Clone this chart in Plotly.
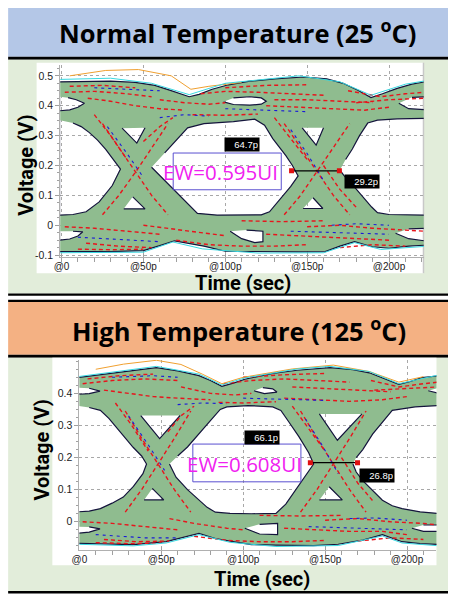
import plotly.graph_objects as go

# ---------------- Normal Temperature (25 oC) : time in ps, voltage in V ----------------
# outer envelope of the eye: top edge left->right, then bottom edge right->left
n_env_t = [-1.5, 15, 30, 45, 57, 66, 72, 78, 84, 92, 102, 115, 130, 148, 162, 172, 181, 189, 196, 205, 214, 224,
           224, 212, 200, 190, 186, 179, 170, 161, 145, 120, 100, 87, 78, 69, 60, 50, 30, -1.5]
n_env_v = [0.48, 0.481, 0.482, 0.478, 0.468, 0.452, 0.44, 0.43, 0.438, 0.455, 0.47, 0.482, 0.49, 0.496, 0.49,
           0.475, 0.452, 0.427, 0.44, 0.458, 0.472, 0.482,
           -0.066, -0.07, -0.077, -0.072, -0.066, -0.055, -0.07, -0.088, -0.089, -0.089, -0.087, -0.07, -0.06,
           -0.052, -0.068, -0.085, -0.088, -0.088]
# eye openings (drawn the other way round so they stay empty)
n_left_eye_t = [-1.2, -1.2, 7, 15, 23, 31, 36, 31, 27, 22, 17, 12, 7]
n_left_eye_v = [0.352, 0.034, 0.036, 0.045, 0.078, 0.133, 0.188, 0.225, 0.254, 0.285, 0.31, 0.33, 0.342]
n_mid_eye_t = [55, 62, 69, 76, 83, 95, 110, 122, 127, 131, 135.5, 140, 144.5, 141, 137, 133, 129, 124, 118, 105,
               95, 87, 77, 70, 63]
n_mid_eye_v = [0.194, 0.156, 0.118, 0.08, 0.04, 0.034, 0.034, 0.035, 0.045, 0.07, 0.1, 0.13, 0.165, 0.2, 0.233,
               0.262, 0.29, 0.335, 0.355, 0.347, 0.343, 0.34, 0.326, 0.284, 0.242]
n_right_eye_t = [170, 172.4, 177, 181.4, 185.5, 189.4, 193, 200, 223, 223, 205, 193, 187, 182, 177.6, 173.5]
n_right_eye_v = [0.185, 0.167, 0.14, 0.111, 0.085, 0.061, 0.042, 0.036, 0.034, 0.358, 0.356, 0.352, 0.342, 0.3,
                 0.255, 0.22]
n_isi_t = [37, 46, 51, None, 38, 51, 43.5, None, 147, 155.5, 160, None, 147.5, 159.6, 153.6]
n_isi_v = [0.325, 0.275, 0.326, None, 0.055, 0.055, 0.095, None, 0.326, 0.268, 0.326, None, 0.056, 0.056, 0.092]
n_lens_t = [-1.2, -1.2, 5, 10, 14, 9, 4, None, 99, 105, 115, 122, 125, 122, 115, 105, None,
            206, 212, 223, 223, 214, None, -1.2, -1.2, 5, 10, 13, 7, None,
            103, 110, 118, 123, 123, 113, None, 204, 212, 223, 223, 212]
n_lens_v = [0.43, 0.383, 0.386, 0.395, 0.408, 0.42, 0.427, None, 0.413, 0.404, 0.402, 0.405, 0.415, 0.426, 0.43,
            0.426, None, 0.408, 0.39, 0.386, 0.43, 0.428, None, -0.02, -0.05, -0.046, -0.036, -0.022, -0.02, None,
            -0.02, -0.045, -0.058, -0.055, -0.02, -0.016, None, -0.027, -0.045, -0.053, -0.01, -0.012]
# red noise streaks inside the band
n_red_t = [2, 20, 40, 55, None, 16, 30, 45, 60, 75, None, 60, 75, 90, 100, None, 85, 100, 120, 140, 160, None,
           125, 145, 165, 185, 200, None, 130, 150, 170, 190, None, 175, 195, 210, 222, None, 80, 100, 120, None,
           2, 20, 40, 60, None, 15, 35, 55, None, 50, 70, 90, 100, None, 70, 90, 110, 130, 150, None,
           125, 145, 165, 185, 200, None, 150, 170, 190, 210, 222, None, 170, 190, 210, None,
           25, 35, 45.5, 55, 65, None, 25, 35, 45.5, 55, 65, None, 136, 146, 156, 166, 176, None,
           136, 146, 156, 166, 176, None, 20, 30, 40, None, 50, 60, 68, None, 130, 140, 150, None, 160, 170, 180,
           None, 5, 25, 45, None, 100, 125, 150, None, 180, 200, 222, None, 10, 30, 50, None, 110, 135, 160]
n_red_v = [0.445, 0.448, 0.44, 0.43, None, 0.425, 0.415, 0.4, 0.39, 0.385, None, 0.42, 0.41, 0.405, 0.41, None,
           0.44, 0.448, 0.445, 0.44, 0.435, None, 0.4, 0.395, 0.39, 0.385, 0.395, None, 0.42, 0.42, 0.415, 0.41,
           None, 0.45, 0.43, 0.44, 0.445, None, 0.37, 0.368, 0.372, None,
           -0.005, -0.01, -0.02, -0.03, None, -0.06, -0.07, -0.075, None, 0.0, -0.015, -0.03, -0.035, None,
           -0.05, -0.065, -0.07, -0.07, -0.065, None, -0.03, -0.035, -0.04, -0.045, -0.05, None,
           -0.005, 0.0, -0.01, -0.015, -0.02, None, -0.075, -0.065, -0.07, None,
           0.34, 0.26, 0.18, 0.1, 0.035, None, 0.035, 0.1, 0.18, 0.26, 0.34, None, 0.34, 0.26, 0.18, 0.1, 0.035,
           None, 0.035, 0.1, 0.18, 0.26, 0.34, None, 0.37, 0.3, 0.22, None, 0.28, 0.33, 0.36, None,
           0.36, 0.29, 0.22, None, 0.2, 0.12, 0.06, None, 0.465, 0.468, 0.46, None, 0.46, 0.468, 0.47, None,
           0.41, 0.42, 0.425, None, -0.08, -0.082, -0.08, None, 0.015, 0.012, 0.015]
n_blue_t = [20, 45, 60, None, 100, 130, 150, None, 10, 40, 60, None, 140, 170, 200, None, 28, 40, 50, None,
            140, 150, 160, None, 60, 75, 90, None, 165, 180, 200]
n_blue_v = [0.46, 0.455, 0.45, None, 0.39, 0.385, 0.38, None, -0.04, -0.05, -0.055, None, -0.02, -0.025, -0.03,
            None, 0.33, 0.24, 0.16, None, 0.32, 0.24, 0.15, None, 0.36, 0.37, 0.365, None, 0.0, 0.005, 0.0]
n_orange_t = [5, 27, 47, 67, 79, 90, 110]
n_orange_v = [0.5, 0.518, 0.521, 0.5, 0.455, 0.465, 0.478]
n_cyan_t = [-1, 30, 55, 78, 100, 145, 170, 189, 210, 224, None,
            -1, 50, 68, 86, 120, 160, 179, 195, 224]
n_cyan_v = [0.488, 0.492, 0.475, 0.437, 0.475, 0.5, 0.48, 0.435, 0.472, 0.485, None,
            -0.092, -0.09, -0.056, -0.079, -0.093, -0.092, -0.058, -0.081, -0.07]
n_mark_t = [140.5, 169.7]
n_mark_v = [0.182, 0.182]
n_ew = "EW=0.595UI"
n_width = "64.7p"
n_jitter = "29.2p"

# ---------------- High Temperature (125 oC) ----------------
h_env_t = [-1.5, 23, 47, 60, 73, 80, 87, 94, 101, 118, 133, 153, 167, 177, 187, 195, 202, 209, 220,
           220, 208, 197, 185, 173, 158, 143, 120, 105, 92, 83, 73, 63, 53, 33, -1.5]
h_env_v = [0.449, 0.464, 0.48, 0.47, 0.455, 0.44, 0.422, 0.432, 0.444, 0.462, 0.472, 0.48, 0.474, 0.464, 0.445,
           0.428, 0.437, 0.449, 0.455,
           -0.071, -0.068, -0.062, -0.04, -0.057, -0.07, -0.074, -0.073, -0.071, -0.06, -0.052, -0.036, -0.05,
           -0.062, -0.071, -0.067]
h_left_eye_t = [-1, -1, 6, 12.8, 20, 26.8, 33, 38.8, 41, 38, 32.8, 28, 22.8, 18, 12.8, 6]
h_left_eye_v = [0.361, 0.031, 0.033, 0.041, 0.058, 0.077, 0.11, 0.15, 0.18, 0.205, 0.232, 0.262, 0.294, 0.322,
                0.347, 0.356]
h_mid_eye_t = [55, 59, 66, 73, 78, 83, 92, 105, 120, 126, 133, 139, 143, 140, 134, 128, 123, 118, 103, 90, 86,
               80, 73, 66, 60]
h_mid_eye_v = [0.18, 0.139, 0.1, 0.067, 0.045, 0.03, 0.026, 0.025, 0.026, 0.055, 0.108, 0.15, 0.18, 0.215, 0.265,
               0.31, 0.347, 0.358, 0.362, 0.358, 0.35, 0.315, 0.274, 0.233, 0.205]
h_right_eye_t = [167, 169, 173, 177, 181, 185, 191, 197, 208, 219.5, 219.5, 205, 191, 185, 179, 173, 169]
h_right_eye_v = [0.18, 0.155, 0.128, 0.107, 0.085, 0.067, 0.05, 0.041, 0.031, 0.026, 0.362, 0.358, 0.347, 0.31,
                 0.273, 0.225, 0.2]
h_isi_t = [37.5, 49, 61.5, None, 39.5, 51.5, 44.5, None, 146.5, 157.5, 172.5, None, 146.5, 160.5, 152.5]
h_isi_v = [0.331, 0.259, 0.331, None, 0.068, 0.068, 0.104, None, 0.336, 0.254, 0.336, None, 0.068, 0.068, 0.109]
h_lens_t = [-1, -1, 6, 12.6, 6, None, 106.6, 113, 120.6, 118, 112, None, 213, 219.5, 219.5, None,
            -1, -1, 6, 12.6, 6, None, 101, 110, 121, 121, 110, None, 203, 210, 219.5, 219.5, 210]
h_lens_v = [0.418, 0.397, 0.399, 0.407, 0.416, None, 0.408, 0.399, 0.404, 0.414, 0.418, None, 0.408, 0.4, 0.418,
            None, -0.015, -0.036, -0.032, -0.022, -0.016, None, -0.02, -0.038, -0.04, -0.005, -0.008, None,
            -0.02, -0.03, -0.03, -0.01, -0.01]
h_red_t = [2, 20, 40, 60, None, 15, 30, 45, 60, 80, None, 62, 80, 95, 105, None, 88, 105, 125, 145, 165, None,
           125, 145, 165, 185, 200, None, 130, 150, 170, 190, None, 178, 195, 210, 219, None, 85, 100, 120, None,
           2, 20, 40, 60, None, 15, 35, 55, None, 55, 70, 90, 100, None, 70, 90, 110, 130, 150, None,
           125, 145, 165, 185, 200, None, 150, 170, 190, 210, 219, None, 170, 190, 210, None,
           28, 38, 48, 58, 68, None, 28, 38, 48, 58, 68, None, 135, 145, 155, 165, 175, None,
           135, 145, 155, 165, 175, None, 22, 32, 42, None, 54, 62, 70, None, 130, 140, 150, None, 160, 170, 180,
           None, 5, 25, 45, None, 100, 125, 150, None, 180, 200, 219, None, 10, 30, 50, None, 110, 135, 160]
h_red_v = [0.43, 0.44, 0.445, 0.44, None, 0.41, 0.4, 0.39, 0.385, 0.38, None, 0.42, 0.4, 0.395, 0.4, None,
           0.43, 0.44, 0.445, 0.44, 0.435, None, 0.385, 0.38, 0.375, 0.38, 0.39, None, 0.42, 0.415, 0.41, 0.405,
           None, 0.44, 0.42, 0.43, 0.435, None, 0.372, 0.37, 0.374, None,
           0.0, -0.005, -0.015, -0.025, None, -0.055, -0.062, -0.06, None, 0.01, -0.005, -0.02, -0.025, None,
           -0.045, -0.058, -0.062, -0.062, -0.058, None, -0.02, -0.025, -0.03, -0.03, -0.04, None,
           0.005, 0.01, 0.0, -0.005, -0.01, None, -0.06, -0.05, -0.055, None,
           0.345, 0.26, 0.18, 0.1, 0.03, None, 0.03, 0.1, 0.18, 0.26, 0.345, None, 0.345, 0.26, 0.18, 0.1, 0.03,
           None, 0.03, 0.1, 0.18, 0.26, 0.345, None, 0.37, 0.3, 0.22, None, 0.28, 0.33, 0.36, None,
           0.36, 0.29, 0.22, None, 0.2, 0.12, 0.06, None, 0.445, 0.455, 0.46, None, 0.45, 0.458, 0.462, None,
           0.41, 0.415, 0.42, None, -0.065, -0.068, -0.066, None, 0.02, 0.018, 0.02]
h_blue_t = [20, 45, 60, None, 100, 130, 150, None, 10, 40, 60, None, 140, 170, 200, None, 30, 42, 52, None,
            138, 148, 158, None, 60, 75, 90, None, 165, 180, 200]
h_blue_v = [0.45, 0.455, 0.45, None, 0.385, 0.38, 0.378, None, -0.04, -0.05, -0.05, None, -0.015, -0.02, -0.025,
            None, 0.33, 0.24, 0.16, None, 0.32, 0.24, 0.15, None, 0.365, 0.37, 0.368, None, 0.01, 0.012, 0.005]
h_orange_t = [10, 27, 47, 62, 75, 87, 100, 130, 155, 177, 195, 210]
h_orange_v = [0.475, 0.491, 0.503, 0.49, 0.46, 0.43, 0.45, 0.476, 0.488, 0.468, 0.435, 0.452]
h_cyan_t = [-1, 23, 47, 73, 87, 101, 133, 153, 177, 195, 220, None,
            -1, 33, 53, 73, 92, 120, 158, 185, 197, 220]
h_cyan_v = [0.452, 0.468, 0.484, 0.46, 0.426, 0.448, 0.476, 0.484, 0.468, 0.43, 0.458, None,
            -0.07, -0.075, -0.066, -0.04, -0.064, -0.077, -0.074, -0.044, -0.066, -0.075]
h_mark_t = [141, 169.8]
h_mark_v = [0.184, 0.184]
h_ew = "EW=0.608UI"
h_width = "66.1p"
h_jitter = "26.8p"

# axis ticks
t_ticks = [0, 50, 100, 150, 200]
t_labels = ["@0", "@50p", "@100p", "@150p", "@200p"]
n_v_ticks = [-0.1, 0, 0.1, 0.2, 0.3, 0.4, 0.5]
n_v_labels = ["-0.1", "0", "0.1", "0.2", "0.3", "0.4", "0.5"]
h_v_ticks = [0, 0.1, 0.2, 0.3, 0.4]
h_v_labels = ["0", "0.1", "0.2", "0.3", "0.4"]

W, H = 456, 600
OFF = 8  # the page puts the figure 8px in from the top-left corner
GREEN = "#8FBC8F"


def join(*parts):
    out = []
    for p in parts:
        if out:
            out.append(None)
        out.extend(p)
    return out


def fx(px):
    return (px - OFF) / W


def fy(py):
    return 1 - (py - OFF) / H


fig = go.Figure()


def add_eye(xa, ya, env, holes, red, blue, orange, cyan, mark):
    xs = join(env[0], *[h[0] for h in holes])
    ys = join(env[1], *[h[1] for h in holes])
    common = dict(xaxis=xa, yaxis=ya, hoverinfo="skip", showlegend=False)
    fig.add_trace(go.Scatter(x=xs, y=ys, mode="lines", fill="toself", fillcolor=GREEN,
                             line=dict(color="#14143c", width=1.2), **common))
    fig.add_trace(go.Scatter(x=red[0], y=red[1], mode="lines",
                             line=dict(color="#e8141c", width=1.4, dash="4px,3px"), **common))
    fig.add_trace(go.Scatter(x=blue[0], y=blue[1], mode="lines",
                             line=dict(color="#1a1ad8", width=1.1, dash="3px,4px"), **common))
    fig.add_trace(go.Scatter(x=orange[0], y=orange[1], mode="lines",
                             line=dict(color="#f0a030", width=1), **common))
    fig.add_trace(go.Scatter(x=cyan[0], y=cyan[1], mode="lines",
                             line=dict(color="#38d8e0", width=1), **common))
    fig.add_trace(go.Scatter(x=mark[0], y=mark[1], mode="lines+markers",
                             line=dict(color="black", width=1.3),
                             marker=dict(symbol="square", size=5, color="#e01010"), **common))


add_eye("x", "y", (n_env_t, n_env_v),
        [(n_left_eye_t, n_left_eye_v), (n_mid_eye_t, n_mid_eye_v), (n_right_eye_t, n_right_eye_v),
         (n_isi_t, n_isi_v), (n_lens_t, n_lens_v)],
        (n_red_t, n_red_v), (n_blue_t, n_blue_v), (n_orange_t, n_orange_v), (n_cyan_t, n_cyan_v),
        (n_mark_t, n_mark_v))
add_eye("x2", "y2", (h_env_t, h_env_v),
        [(h_left_eye_t, h_left_eye_v), (h_mid_eye_t, h_mid_eye_v), (h_right_eye_t, h_right_eye_v),
         (h_isi_t, h_isi_v), (h_lens_t, h_lens_v)],
        (h_red_t, h_red_v), (h_blue_t, h_blue_v), (h_orange_t, h_orange_v), (h_cyan_t, h_cyan_v),
        (h_mark_t, h_mark_v))

# little red start markers under the time axis
fig.add_trace(go.Scatter(x=[0], y=[-0.118], xaxis="x", yaxis="y", mode="markers", cliponaxis=False,
                         marker=dict(symbol="triangle-left", size=7, color="#e01010"),
                         hoverinfo="skip", showlegend=False))
fig.add_trace(go.Scatter(x=[0.5], y=[-0.101], xaxis="x2", yaxis="y2", mode="markers", cliponaxis=False,
                         marker=dict(symbol="triangle-left", size=7, color="#e01010"),
                         hoverinfo="skip", showlegend=False))

tick_font = dict(family="Liberation Sans", size=10, color="#222")


def x_axis(px0, px1, rng, anchor):
    return dict(domain=[fx(px0), fx(px1)], range=rng, anchor=anchor,
                tickvals=t_ticks, ticktext=t_labels, tickfont=tick_font,
                showgrid=True, gridcolor="#a8a8a8", griddash="dot", gridwidth=1,
                zeroline=False, showline=True, linecolor="#b0b0b0", linewidth=1,
                ticks="inside", ticklen=3, tickcolor="#a0a0a0",
                minor=dict(dtick=10, ticks="outside", ticklen=4, tickcolor="#a0a0a0", showgrid=False))


def y_axis(py0, py1, rng, anchor, vals, labels):
    return dict(domain=[fy(py1), fy(py0)], range=rng, anchor=anchor,
                tickvals=vals, ticktext=labels, tickfont=dict(tick_font, size=10.5),
                showgrid=True, gridcolor="#a8a8a8", griddash="dot", gridwidth=1,
                zeroline=False, showline=True, linecolor="#b0b0b0", linewidth=1,
                ticks="outside", ticklen=4, tickcolor="#a0a0a0",
                minor=dict(dtick=0.025, ticks="outside", ticklen=2, tickcolor="#a0a0a0", showgrid=False))


shapes = []


def rect(x0, y0, x1, y1, color, line=None, layer="below"):
    shapes.append(dict(type="rect", xref="paper", yref="paper", x0=fx(x0), x1=fx(x1), y0=fy(y1), y1=fy(y0),
                       fillcolor=color, line=line or dict(width=0), layer=layer))


# panel 1 frame
rect(0, 2.5, 470, 5, "black")
rect(0, 5, 470, 57, "#B4C7E7")
rect(0, 57, 470, 60, "black")
rect(0, 60, 470, 295.5, "#E2EDDA")
rect(0, 295.5, 470, 297.8, "black")
rect(29, 63, 423, 275, "white")
rect(422, 63, 423.5, 275, "#c8c8c8")
# panel 2 frame
rect(0, 301.7, 470, 304, "black")
rect(0, 304, 470, 357, "#F4B183")
rect(0, 357, 470, 360, "black")
rect(0, 360, 470, 595, "#E2EDDA")
rect(0, 595, 470, 597.5, "black")
rect(45, 360, 436, 569, "white")
# EW boxes
rect(168, 154, 278, 191, "rgba(0,0,0,0)", dict(color="#5a4fd0", width=1), layer="above")
rect(188, 447, 298, 485, "rgba(0,0,0,0)", dict(color="#5a4fd0", width=1), layer="above")

annotations = []


def text(px, py, s, size, color="black", angle=0, family="Roboto", **kw):
    annotations.append(dict(xref="paper", yref="paper", x=fx(px), y=fy(py), text=s, showarrow=False,
                            textangle=angle, font=dict(family=family, size=size, color=color),
                            xanchor="center", yanchor="middle", **kw))


text(233, 31.5, "<b>Normal Temperature (25 <sup>o</sup>C)</b>", 25.5, family="Open Sans")
text(235, 331.5, "<b>High Temperature (125 <sup>o</sup>C)</b>", 25.5, family="Open Sans")
text(18.5, 166.5, "<b>Voltage (V)</b>", 20, angle=-90)
text(35, 453, "<b>Voltage (V)</b>", 20, angle=-90)
text(239, 285, "<b>Time (sec)</b>", 20)
text(258, 583, "<b>Time (sec)</b>", 20)
text(216, 173, n_ew, 20.5, color="#f020f0", family="Open Sans")
text(241, 467, h_ew, 20.5, color="#f020f0", family="Open Sans")
lab = dict(bgcolor="black", borderpad=1, width=32, align="right")
text(238.5, 145.5, n_width, 9.5, color="white", family="Liberation Sans", **lab)
text(360, 183, n_jitter, 9.5, color="white", family="Liberation Sans", **lab)
text(258.5, 440, h_width, 9.5, color="white", family="Liberation Sans", **lab)
text(375.5, 478.5, h_jitter, 9.5, color="white", family="Liberation Sans", **lab)

fig.update_layout(
    width=W, height=H, margin=dict(l=0, r=0, t=0, b=0),
    paper_bgcolor="white", plot_bgcolor="white", showlegend=False,
    xaxis=x_axis(53, 423, [-0.8, 221.2], "y"),
    yaxis=y_axis(65, 258.3, [-0.105, 0.5375], "x", n_v_ticks, n_v_labels),
    xaxis2=x_axis(72.5, 436, [0, 218], "y2"),
    yaxis2=y_axis(362, 554, [-0.089, 0.505], "x2", h_v_ticks, h_v_labels),
    shapes=shapes, annotations=annotations,
)

fig.write_html("out.html")
